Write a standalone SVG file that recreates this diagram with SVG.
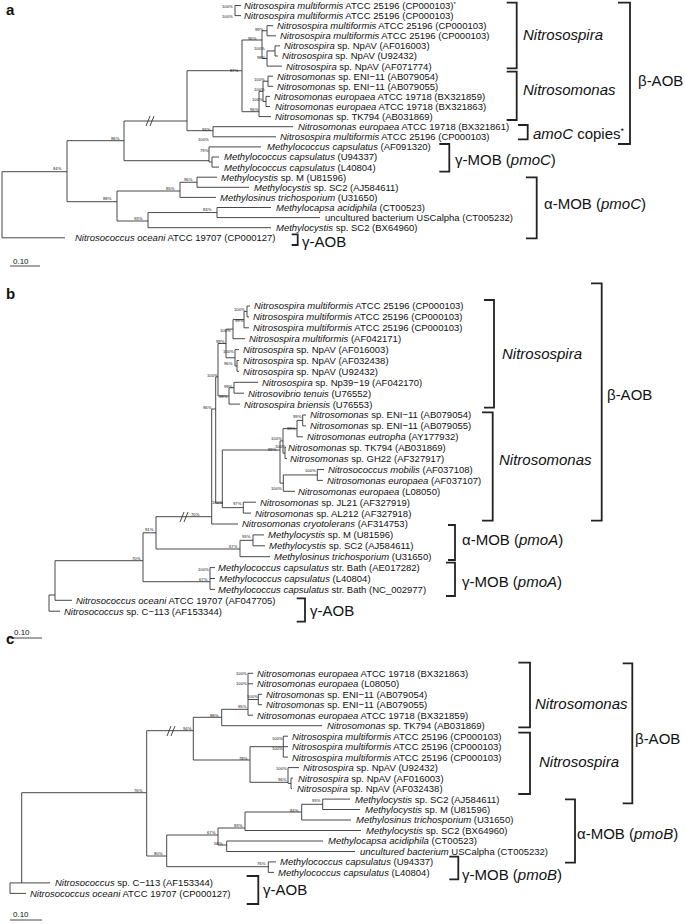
<svg xmlns="http://www.w3.org/2000/svg" width="685" height="924" viewBox="0 0 685 924">
<style>
text{font-family:"Liberation Sans",Arial,sans-serif;fill:#111}
.l{font-size:9.5px}
.i{font-style:italic}
.bs{font-size:4.2px}
.g{font-size:15px}
.p{font-size:15px;font-weight:bold}
.sc{font-size:8px}
.br{fill:none;stroke:#333;stroke-width:0.9}
.bk{fill:none;stroke:#222;stroke-width:1.8}
.sl{fill:none;stroke:#333;stroke-width:0.9}
</style>
<rect width="685" height="924" fill="#fff"/>
<g id="connectors">
<path class="br" d="M2 171.7V237.8M2 237.8H65M2 171.7H67M67 140.7V201.7M67 140.7H124M124 121V160.7M124 121H187M187 70.7V130.7M187 70.7H242M242 40V111.7
M235 5.5V15.6M235 5.5H241M235 15.6H241
M242 40H262M262 30.75V58.5M262 30.75H267M267 25.7V35.8M267 25.7H273M267 35.8H276M262 58.5H267M267 50.95V66.1M267 66.1H282M267 50.95H275M275 45.9V56M275 45.9H280M275 56H278
M242 111.7H259M259 91.4V116.6M259 116.6H271M259 91.4H263M263 81.25V101.45M263 81.25H268M268 76.2V86.3M268 76.2H273M268 86.3H273M263 101.45H266M266 96.4V106.5M266 96.4H270M266 106.5H270
M187 130.7H213M213 126.7V136.8M213 126.7H293M213 136.8H276
M124 160.7H209M209 146.9V162M209 146.9H261M209 162H212M212 157V167.1M212 157H219M212 167.1H219
M67 201.7H117M117 191V221M117 191H180M180 182.25V197.4M180 182.25H197M197 177.2V187.3M197 177.2H217M197 187.3H249M180 197.4H216M117 221H148M148 212.55V227.7M148 212.55H217M217 207.5V217.6M217 207.5H271M217 217.6H320M148 227.7H271"/>
<path class="br" d="M49 595V611.2M49 611.2H60M49 595H55M55 560.7V600.3M55 600.3H72M55 560.7H143M143 532.8V581.7M143 581.7H210M210 567.6V589.4M210 567.6H215M210 578.5H215M210 589.4H215M143 532.8H156M156 516.7V549M156 549H240M240 540.35V556.7M240 556.7H270M240 540.35H253M253 534.9V545.8M253 534.9H264M253 545.8H265M156 516.7H211.7M211.7 409V524M211.7 524H238M211.7 409H215.7M215.7 377V503
M215.7 377H218M218 343.5V396M218 343.5H226M226 329.15V357.8M226 329.15H233M233 319.6V338.7M233 338.7H245M233 319.6H244M244 311.45V327.8M244 327.8H249M244 311.45H247M247 306V316.9M247 306H250M247 316.9H249M226 357.8H235M235 349.6V365.95M235 349.6H239M235 365.95H237M237 360.5V371.4M237 360.5H239M237 371.4H239M218 396H229M229 387.75V404.1M229 404.1H240M229 387.75H234M234 382.3V393.2M234 382.3H258M234 393.2H244
M215.7 503H222.3M222.3 450V507.65M222.3 507.65H243.3M243.3 502.2V513.1M243.3 502.2H256M243.3 513.1H251M222.3 450H280M280 440.9V483.1M280 440.9H283M283 428.6V453.15M283 428.6H297M297 420.45V436.8M297 436.8H303M297 420.45H302.7M302.7 415V425.9M302.7 415H306M302.7 425.9H306M283 453.15H285M285 447.7V458.6M285 447.7H286M285 458.6H287M280 483.1H283.3M283.3 474.95V491.3M283.3 491.3H295M283.3 474.95H317.3M317.3 469.5V480.4M317.3 469.5H324M317.3 480.4H323"/>
<path class="br" d="M10 882.9V893.4M10 882.9H50M10 893.4H26M21.7 792.7V882.9M21.7 792.7H146.7M146.7 730.7V856M146.7 730.7H193.3M193.3 717.3V760M193.3 717.3H221.7M221.7 709.3V725.7M221.7 725.7H322M221.7 709.3H248M248 673.3V715.2M248 673.3H253M248 683.8H253M248 715.2H253M248 699.5H258.3M258.3 694.3V704.7M258.3 694.3H262M258.3 704.7H262
M193.3 760H250M250 746.7V782.3M250 746.7H283.3M283.3 736.2V757.1M283.3 736.2H288M283.3 746.7H288M283.3 757.1H288M250 782.3H288M288 767.6V783.35M288 767.6H299M288 783.35H291M291 778.1V788.6M291 778.1H293M291 788.6H292
M146.7 856H166.7M166.7 835V866.7M166.7 866.7H268.3M268.3 861.9V872.4M268.3 861.9H276M268.3 872.4H274M166.7 835H218M218 828V845M218 845H226.7M226.7 841V851.5M226.7 841H323M226.7 851.5H355M218 828H245M245 812V830.5M245 830.5H361M245 812H301.7M301.7 804.3V820M301.7 820H351M301.7 804.3H322.7M322.7 799.1V809.5M322.7 799.1H350M322.7 809.5H360"/>
<path class="sl" d="M146 126L150 116M150 126L154 116M180 522L184 512M184 522L188 512M167 736L171 726M171 736L175 726"/>
<path class="sl" stroke-width="1.2" d="M10 266H40M10 638H42M10 920H42"/>
</g>
<g id="brackets">
<path class="bk" d="M506.7 2.7H516.7V68.3H506.7"/>
<path class="bk" d="M506.7 71.7H516.7V120H506.7"/>
<path class="bk" d="M518 125H527.7V139.3H518"/>
<path class="bk" d="M618 2.7H630V144H618"/>
<path class="bk" d="M439.3 144H449.3V171.7H439.3"/>
<path class="bk" d="M526 177.3H536.7V238.3H526"/>
<path class="bk" d="M291.7 234.3H297.7V245H291.7"/>
<path class="bk" d="M484 300H494V407.7H484"/>
<path class="bk" d="M482 412.3H492.7V520.7H482"/>
<path class="bk" d="M591 283.3H601.7V520.7H591"/>
<path class="bk" d="M448 525H455V560H448"/>
<path class="bk" d="M446 562.7H455V596H446"/>
<path class="bk" d="M296.7 598.3H305V621.7H296.7"/>
<path class="bk" d="M518.3 662.7H530V727.3H518.3"/>
<path class="bk" d="M518.3 732.7H530V794H518.3"/>
<path class="bk" d="M622.7 663.3H632.3V803.3H622.7"/>
<path class="bk" d="M565 799.3H575V862.7H565"/>
<path class="bk" d="M449.3 856.7H458.3V879.3H449.3"/>
<path class="bk" d="M246.7 876H258.3V904H246.7"/>
</g>
<g id="panel-labels">
<text class="p" x="6" y="15">a</text>
<text class="p" x="6" y="299">b</text>
<text class="p" x="6" y="644">c</text>
<text class="sc" x="13" y="264">0.10</text>
<text class="sc" x="14" y="635">0.10</text>
<text class="sc" x="13" y="917">0.10</text>
</g>
<g id="group-labels">
<text class="g i" x="523" y="40">Nitrosospira</text>
<text class="g i" x="523" y="95">Nitrosomonas</text>
<text class="g" x="533" y="138.5"><tspan class="i">amoC</tspan> copies<tspan font-size="9" dy="-5">*</tspan></text>
<text class="g" x="638" y="86">β-AOB</text>
<text class="g" x="455" y="164.5">γ-MOB (<tspan class="i">pmoC</tspan>)</text>
<text class="g" x="544" y="209">α-MOB (<tspan class="i">pmoC</tspan>)</text>
<text class="g" x="302" y="247">γ-AOB</text>
<text class="g i" x="502" y="359">Nitrosospira</text>
<text class="g i" x="499" y="465">Nitrosomonas</text>
<text class="g" x="607" y="400">β-AOB</text>
<text class="g" x="462" y="545">α-MOB (<tspan class="i">pmoA</tspan>)</text>
<text class="g" x="462" y="587">γ-MOB (<tspan class="i">pmoA</tspan>)</text>
<text class="g" x="310" y="616">γ-AOB</text>
<text class="g i" x="535" y="708.5">Nitrosomonas</text>
<text class="g i" x="539" y="767">Nitrosospira</text>
<text class="g" x="635" y="743.5">β-AOB</text>
<text class="g" x="577" y="838.5">α-MOB (<tspan class="i">pmoB</tspan>)</text>
<text class="g" x="462" y="880">γ-MOB (<tspan class="i">pmoB</tspan>)</text>
<text class="g" x="263" y="895">γ-AOB</text>
</g>
<g id="leaves-a" class="l">
<text class="l" x="244" y="8.9"><tspan class="i">Nitrosospira multiformis</tspan> ATCC 25196 (CP000103)<tspan font-size="6" dy="-3">*</tspan></text>
<text class="l" x="244" y="19"><tspan class="i">Nitrosospira multiformis</tspan> ATCC 25196 (CP000103)</text>
<text class="l" x="277" y="29.1"><tspan class="i">Nitrosospira multiformis</tspan> ATCC 25196 (CP000103)</text>
<text class="l" x="280" y="39.2"><tspan class="i">Nitrosospira multiformis</tspan> ATCC 25196 (CP000103)</text>
<text class="l" x="284" y="49.3"><tspan class="i">Nitrosospira</tspan> sp. NpAV (AF016003)</text>
<text class="l" x="282" y="59.4"><tspan class="i">Nitrosospira</tspan> sp. NpAV (U92432)</text>
<text class="l" x="286" y="69.5"><tspan class="i">Nitrosospira</tspan> sp. NpAV (AF071774)</text>
<text class="l" x="277" y="79.6"><tspan class="i">Nitrosomonas</tspan> sp. ENI−11 (AB079054)</text>
<text class="l" x="277" y="89.7"><tspan class="i">Nitrosomonas</tspan> sp. ENI−11 (AB079055)</text>
<text class="l" x="274" y="99.8"><tspan class="i">Nitrosomonas europaea</tspan> ATCC 19718 (BX321859)</text>
<text class="l" x="275" y="109.9"><tspan class="i">Nitrosomonas europaea</tspan> ATCC 19718 (BX321863)</text>
<text class="l" x="275" y="120"><tspan class="i">Nitrosomonas</tspan> sp. TK794 (AB031869)</text>
<text class="l" x="298" y="130.1"><tspan class="i">Nitrosomonas europaea</tspan> ATCC 19718 (BX321861)</text>
<text class="l" x="280" y="140.2"><tspan class="i">Nitrosospira multiformis</tspan> ATCC 25196 (CP000103)</text>
<text class="l" x="267" y="150.3"><tspan class="i">Methylococcus capsulatus</tspan> (AF091320)</text>
<text class="l" x="224" y="160.4"><tspan class="i">Methylococcus capsulatus</tspan> (U94337)</text>
<text class="l" x="224" y="170.5"><tspan class="i">Methylococcus capsulatus</tspan> (L40804)</text>
<text class="l" x="221" y="180.6"><tspan class="i">Methylocystis</tspan> sp. M (U81596)</text>
<text class="l" x="254" y="190.7"><tspan class="i">Methylocystis</tspan> sp. SC2 (AJ584611)</text>
<text class="l" x="220" y="200.8"><tspan class="i">Methylosinus trichosporium</tspan> (U31650)</text>
<text class="l" x="276" y="210.9"><tspan class="i">Methylocapsa acidiphila</tspan>  (CT00523)</text>
<text class="l" x="325" y="221">uncultured bacterium USCalpha (CT005232)</text>
<text class="l" x="276" y="231.1"><tspan class="i">Methylocystis</tspan> sp. SC2 (BX64960)</text>
<text class="l" x="75" y="241.2"><tspan class="i">Nitrosococcus oceani</tspan> ATCC 19707 (CP000127)</text>
</g>
<g id="leaves-b">
<text class="l" x="254" y="309.4"><tspan class="i">Nitrosospira multiformis</tspan> ATCC 25196 (CP000103)</text>
<text class="l" x="253" y="320.3"><tspan class="i">Nitrosospira multiformis</tspan> ATCC 25196 (CP000103)</text>
<text class="l" x="253" y="331.2"><tspan class="i">Nitrosospira multiformis</tspan> ATCC 25196 (CP000103)</text>
<text class="l" x="249" y="342.1"><tspan class="i">Nitrosospira multiformis</tspan> (AF042171)</text>
<text class="l" x="243" y="353"><tspan class="i">Nitrosospira</tspan> sp. NpAV (AF016003)</text>
<text class="l" x="243" y="363.9"><tspan class="i">Nitrosospira</tspan> sp. NpAV (AF032438)</text>
<text class="l" x="243" y="374.8"><tspan class="i">Nitrosospira</tspan> sp. NpAV (U92432)</text>
<text class="l" x="262" y="385.7"><tspan class="i">Nitrosospira</tspan> sp. Np39−19 (AF042170)</text>
<text class="l" x="248" y="396.6"><tspan class="i">Nitrosovibrio tenuis</tspan> (U76552)</text>
<text class="l" x="244" y="407.5"><tspan class="i">Nitrosospira briensis</tspan> (U76553)</text>
<text class="l" x="310" y="418.4"><tspan class="i">Nitrosomonas</tspan> sp. ENI−11 (AB079054)</text>
<text class="l" x="310" y="429.3"><tspan class="i">Nitrosomonas</tspan> sp. ENI−11 (AB079055)</text>
<text class="l" x="307" y="440.2"><tspan class="i">Nitrosomonas eutropha</tspan> (AY177932)</text>
<text class="l" x="288" y="451.1"><tspan class="i">Nitrosomonas</tspan> sp. TK794 (AB031869)</text>
<text class="l" x="290" y="462"><tspan class="i">Nitrosomonas</tspan> sp. GH22 (AF327917)</text>
<text class="l" x="328" y="472.9"><tspan class="i">Nitrosococcus mobilis</tspan> (AF037108)</text>
<text class="l" x="327" y="483.8"><tspan class="i">Nitrosomonas europaea</tspan> (AF037107)</text>
<text class="l" x="298" y="494.7"><tspan class="i">Nitrosomonas europaea</tspan> (L08050)</text>
<text class="l" x="260" y="505.6"><tspan class="i">Nitrosomonas</tspan> sp. JL21 (AF327919)</text>
<text class="l" x="255" y="516.5"><tspan class="i">Nitrosomonas</tspan> sp. AL212 (AF327918)</text>
<text class="l" x="242" y="527.4"><tspan class="i">Nitrosomonas cryotolerans</tspan> (AF314753)</text>
<text class="l" x="268" y="538.3"><tspan class="i">Methylocystis</tspan> sp. M (U81596)</text>
<text class="l" x="269" y="549.2"><tspan class="i">Methylocystis</tspan> sp. SC2 (AJ584611)</text>
<text class="l" x="274" y="560.1"><tspan class="i">Methylosinus trichosporium</tspan> (U31650)</text>
<text class="l" x="218" y="571"><tspan class="i">Methylococcus capsulatus</tspan> str. Bath (AE017282)</text>
<text class="l" x="219" y="581.9"><tspan class="i">Methylococcus capsulatus</tspan> (L40804)</text>
<text class="l" x="218" y="592.8"><tspan class="i">Methylococcus capsulatus</tspan> str. Bath (NC_002977)</text>
<text class="l" x="76" y="603.7"><tspan class="i">Nitrosococcus oceani</tspan> ATCC 19707 (AF047705)</text>
<text class="l" x="64" y="614.6"><tspan class="i">Nitrosococcus</tspan> sp. C−113 (AF153344)</text>
</g>
<g id="leaves-c">
<text class="l" x="257" y="676.7"><tspan class="i">Nitrosomonas europaea</tspan> ATCC 19718 (BX321863)</text>
<text class="l" x="257" y="687.2"><tspan class="i">Nitrosomonas europaea</tspan> (L08050)</text>
<text class="l" x="266" y="697.7"><tspan class="i">Nitrosomonas</tspan> sp. ENI−11 (AB079054)</text>
<text class="l" x="266" y="708.1"><tspan class="i">Nitrosomonas</tspan> sp. ENI−11 (AB079055)</text>
<text class="l" x="257" y="718.6"><tspan class="i">Nitrosomonas europaea</tspan> ATCC 19718 (BX321859)</text>
<text class="l" x="327" y="729.1"><tspan class="i">Nitrosomonas</tspan> sp. TK794 (AB031869)</text>
<text class="l" x="292" y="739.6"><tspan class="i">Nitrosospira multiformis</tspan> ATCC 25196 (CP000103)</text>
<text class="l" x="292" y="750.1"><tspan class="i">Nitrosospira multiformis</tspan> ATCC 25196 (CP000103)</text>
<text class="l" x="292" y="760.5"><tspan class="i">Nitrosospira multiformis</tspan> ATCC 25196 (CP000103)</text>
<text class="l" x="303" y="771"><tspan class="i">Nitrosospira</tspan> sp. NpAV (U92432)</text>
<text class="l" x="298" y="781.5"><tspan class="i">Nitrosospira</tspan> sp. NpAV (AF016003)</text>
<text class="l" x="297" y="792"><tspan class="i">Nitrosospira</tspan> sp. NpAV (AF032438)</text>
<text class="l" x="355" y="802.5"><tspan class="i">Methylocystis</tspan> sp. SC2 (AJ584611)</text>
<text class="l" x="365" y="812.9"><tspan class="i">Methylocystis</tspan> sp. M (U81596)</text>
<text class="l" x="356" y="823.4"><tspan class="i">Methylosinus trichosporium</tspan> (U31650)</text>
<text class="l" x="366" y="833.9"><tspan class="i">Methylocystis</tspan> sp. SC2 (BX64960)</text>
<text class="l" x="328" y="844.4"><tspan class="i">Methylocapsa acidiphila</tspan> (CT00523)</text>
<text class="l" x="360" y="854.9"><tspan class="i">uncultured bacterium</tspan> USCalpha (CT005232)</text>
<text class="l" x="280" y="865.3"><tspan class="i">Methylococcus capsulatus</tspan> (U94337)</text>
<text class="l" x="278" y="875.8"><tspan class="i">Methylococcus capsulatus</tspan> (L40804)</text>
<text class="l" x="55" y="886.3"><tspan class="i">Nitrosococcus</tspan> sp. C−113 (AF153344)</text>
<text class="l" x="30" y="896.8"><tspan class="i">Nitrosococcus oceani</tspan> ATCC 19707 (CP000127)</text>
</g>
<g id="bootstrap" class="bs">
<text class="bs" x="222" y="7.5">100%</text><text class="bs" x="222" y="17.5">100%</text><text class="bs" x="255" y="30.5">99%</text><text class="bs" x="248" y="39.5">96%</text><text class="bs" x="254" y="49.5">100%</text><text class="bs" x="257" y="58.5">98%</text><text class="bs" x="230" y="71.5">87%</text><text class="bs" x="254" y="80.5">100%</text><text class="bs" x="254" y="90.5">100%</text><text class="bs" x="252" y="100.5">100%</text><text class="bs" x="250" y="110.5">96%</text><text class="bs" x="202" y="130.5">93%</text><text class="bs" x="198" y="140.5">100%</text><text class="bs" x="200" y="151.5">79%</text><text class="bs" x="111" y="140">86%</text><text class="bs" x="53" y="170">84%</text><text class="bs" x="103" y="200">88%</text><text class="bs" x="166" y="190">85%</text><text class="bs" x="184" y="180.5">96%</text><text class="bs" x="134" y="219.5">93%</text><text class="bs" x="203" y="210.5">83%</text>
<text class="bs" x="234" y="310.5">100%</text><text class="bs" x="235" y="321.5">99%</text><text class="bs" x="220" y="332">100%</text><text class="bs" x="216" y="343">99%</text><text class="bs" x="223" y="353">100%</text><text class="bs" x="224" y="365">96%</text><text class="bs" x="207" y="377">100%</text><text class="bs" x="224" y="388">99%</text><text class="bs" x="219" y="398">99%</text><text class="bs" x="203" y="408.5">96%</text><text class="bs" x="293" y="417.5">99%</text><text class="bs" x="287" y="429.5">99%</text><text class="bs" x="271" y="440">100%</text><text class="bs" x="275" y="448">100%</text><text class="bs" x="268" y="451">89%</text><text class="bs" x="305" y="472">100%</text><text class="bs" x="271" y="490">100%</text><text class="bs" x="212" y="503.5">100%</text><text class="bs" x="233" y="505">97%</text><text class="bs" x="191" y="515.5">70%</text><text class="bs" x="145" y="531">91%</text><text class="bs" x="242" y="538">93%</text><text class="bs" x="229" y="548">67%</text><text class="bs" x="132" y="560">70%</text><text class="bs" x="198" y="570.5">100%</text><text class="bs" x="199" y="581">67%</text>
<text class="bs" x="236" y="675">100%</text><text class="bs" x="236" y="684.5">100%</text><text class="bs" x="247" y="698">100%</text><text class="bs" x="238" y="708">95%</text><text class="bs" x="210" y="717">88%</text><text class="bs" x="183" y="730">94%</text><text class="bs" x="272" y="740">100%</text><text class="bs" x="272" y="749.5">100%</text><text class="bs" x="239" y="760">78%</text><text class="bs" x="276" y="770">100%</text><text class="bs" x="278" y="781">96%</text><text class="bs" x="134" y="792">76%</text><text class="bs" x="312" y="801.5">93%</text><text class="bs" x="290" y="812">84%</text><text class="bs" x="234" y="827">83%</text><text class="bs" x="207" y="834">67%</text><text class="bs" x="214" y="845">58%</text><text class="bs" x="154" y="855">80%</text><text class="bs" x="257" y="865">76%</text>
</g>
</svg>
